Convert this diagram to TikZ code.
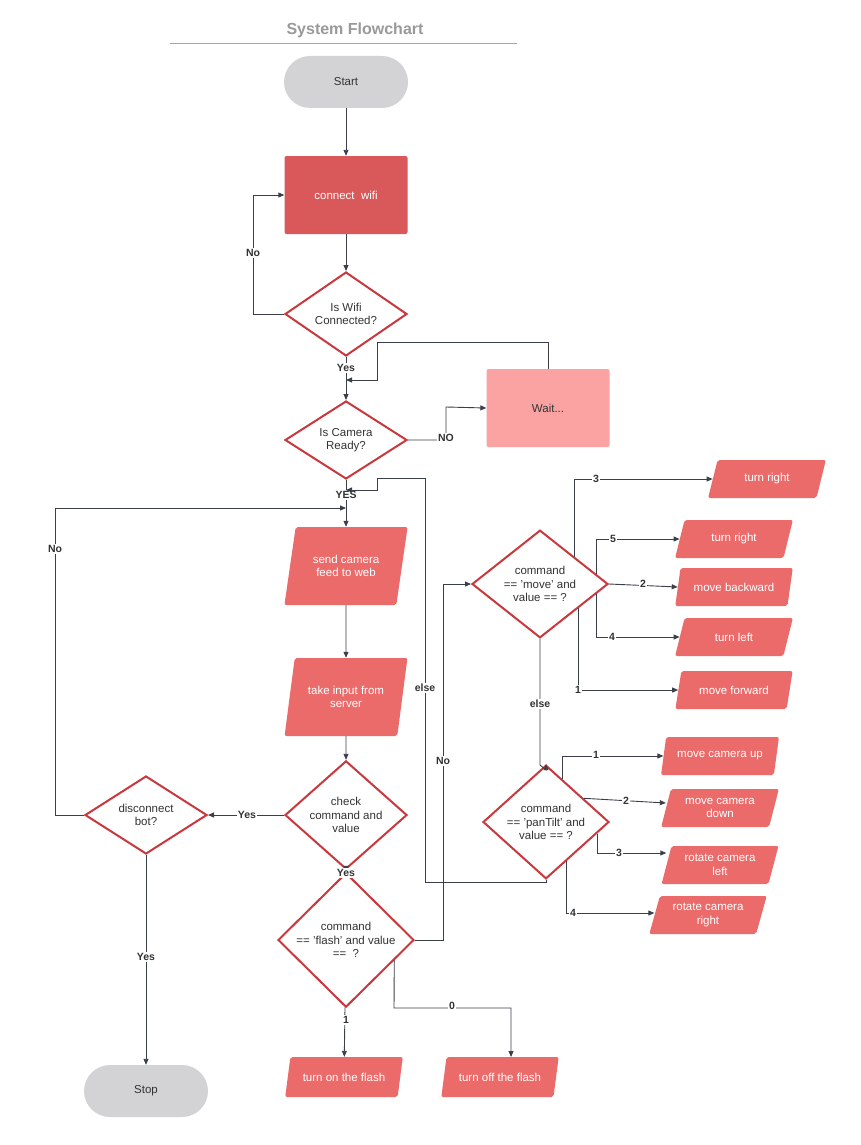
\documentclass[tikz,border=0pt]{standalone}
\usepackage{fontspec}
\setmainfont{Liberation Sans}
\usetikzlibrary{shapes.geometric,arrows.meta,calc}
\definecolor{rfill}{HTML}{EB6B6B}
\definecolor{rborder}{HTML}{C8383C}
\definecolor{cwfill}{HTML}{D9585A}
\definecolor{waitfill}{HTML}{FBA3A3}
\definecolor{gfill}{HTML}{D3D3D5}
\definecolor{ln}{HTML}{3A3F4A}
\definecolor{txt}{HTML}{333333}
\begin{document}
\begin{tikzpicture}[x=1pt,y=-1pt,
  every node/.style={font=\fontsize{11.5}{13.5}\selectfont,text=txt,align=center},
  term/.style={rounded corners=26pt,fill=gfill,minimum width=124pt,minimum height=52pt},
  box/.style={fill=#1,minimum width=123pt,minimum height=78pt,rounded corners=2pt},
  dia/.style={diamond,draw=rborder,line width=2pt,fill=white,inner sep=0pt,minimum width=#1},
  para/.style={trapezium,trapezium left angle=74,trapezium right angle=106,trapezium stretches=true,fill=rfill,text=white,rounded corners=2pt,minimum width=#1},
  arr/.style={draw=ln,line width=0.9pt,-{Triangle[length=6pt,width=5pt]}},
  lbl/.style={font=\bfseries\fontsize{10.5}{12}\selectfont,fill=white,inner sep=1pt}]
\useasboundingbox (0,0) rectangle (861,1145);
\node[text=gray!80,font=\bfseries\fontsize{16}{18}\selectfont] (title) at (355,30) {System Flowchart};
\draw[gray!70,line width=0.8pt] (170,43) -- (517,43);
\node[term] (start) at (346,82) {Start};
\node[box=cwfill,text=white] (cw) at (346,195) {connect\ \ wifi};
\node[dia=122pt,minimum height=78pt] (iw) at (346,314) {Is Wifi\\Connected?};
\node[box=waitfill] (wait) at (548,408) {Wait...};
\node[dia=122pt,minimum height=78pt] (cr) at (346,440) {Is Camera\\Ready?};
\node[para=124pt,minimum height=78pt] (send) at (346,566) {send camera\\feed to web};
\node[para=124pt,minimum height=78pt] (take) at (346,697) {take input from\\server};
\node[dia=122pt,minimum height=78pt] (chk) at (346,815) {check\\command and\\value};
\node[dia=122pt,minimum height=78pt] (disc) at (146,815) {disconnect\\bot?};
\node[term] (stop) at (146,1091) {Stop};
\node[dia=136pt,minimum height=90pt] (fl) at (346,940) {command\\== 'flash' and value\\==\ \ ?};
\node[para=118pt,minimum height=40pt] (on) at (344,1077) {turn on the flash};
\node[para=118pt,minimum height=40pt] (off) at (500,1077) {turn off the flash};
\node[dia=136pt,minimum height=90pt] (mv) at (540,584) {command\\== 'move' and\\value == ?};
\node[para=118pt,minimum height=38pt] (tr1) at (767,479) {turn right};
\node[para=118pt,minimum height=38pt] (tr2) at (734,539) {turn right};
\node[para=118pt,minimum height=38pt] (mb) at (734,587) {move backward};
\node[para=118pt,minimum height=38pt] (tl) at (734,637) {turn left};
\node[para=118pt,minimum height=38pt] (mf) at (734,690) {move forward};
\node[dia=126pt,minimum height=90pt] (pt) at (546,822) {command\\== 'panTilt' and\\value == ?};
\node[para=118pt,minimum height=38pt] (mcu) at (720,756) {move camera up};
\node[para=118pt,minimum height=38pt] (mcd) at (720,808) {move camera\\down};
\node[para=118pt,minimum height=38pt] (rcl) at (720,865) {rotate camera\\left};
\node[para=118pt,minimum height=38pt] (rcr) at (708,915) {rotate camera\\right};
\coordinate (j1) at (346,380);
\coordinate (j2) at (346,508);
\coordinate (j3) at (346,490);
% connectors
\draw[arr] (start) -- (cw);
\draw[arr] (cw) -- (iw);
\draw[arr] (iw.west) -- (253,314) -- (253,195) -- (cw.west);
\node[lbl] at (253,253) {No};
\draw[arr] (iw) -- (cr);
\node[lbl] at (346,368) {Yes};
\draw[arr] (wait.north) -- (548,342) -- (377,342) -- (377,380) -- (j1);
\draw[arr] (cr.east) -- (446,440) -- (446,407) -- (wait.west);
\node[lbl] at (446,438) {NO};
\draw[arr] (cr) -- (send);
\node[lbl] at (346,495) {YES};
\draw[arr] (disc.west) -- (55,815) -- (55,508) -- (j2);
\node[lbl] at (55,549) {No};
\draw[arr] (pt.south) -- (546,882) -- (425,882) -- (425,478) -- (377,478) -- (377,490) -- (j3);
\node[lbl] at (425,688) {else};
\draw[arr] (send) -- (take);
\draw[arr] (take) -- (chk);
\draw[arr] (chk) -- (disc);
\node[lbl] at (247,815) {Yes};
\draw[arr] (disc) -- (stop);
\node[lbl] at (146,957) {Yes};
\draw[arr] (chk) -- (fl);
\node[lbl] at (346,873) {Yes};
\draw[arr] (fl.east) -- (443,940) -- (443,584) -- (mv.west);
\node[lbl] at (443,761) {No};
\draw[arr] (fl) -- (on);
\node[lbl] at (346,1020) {1};
\draw[arr] ($(fl.east)!0.3!(fl.south)$) -- (394,1008) -- (511,1008) -- (511,1057);
\node[lbl] at (452,1006) {0};
\draw[arr] (mv.south) -- (540,765) -- (546,770) -- (pt.north);
\node[lbl] at (540,704) {else};
\draw[arr] (mv.north east) |- (tr1.west);
\node[lbl] at (596,479) {3};
\draw[arr] ($(mv.east)!0.18!(mv.north)$) |- (tr2.west);
\node[lbl] at (613,539) {5};
\draw[arr] (mv.east) -- (mb.west);
\node[lbl] at (643,584) {2};
\draw[arr] ($(mv.east)!0.18!(mv.south)$) |- (tl.west);
\node[lbl] at (612,637) {4};
\draw[arr] ($(mv.east)!0.44!(mv.south)$) |- (mf.west);
\node[lbl] at (578,690) {1};
\draw[arr] ($(pt.east)!0.75!(pt.north)$) |- (mcu.west);
\node[lbl] at (596,755) {1};
\draw[arr] ($(pt.east)!0.41!(pt.north)$) -- (mcd.west|-583,803);
\node[lbl] at (626,801) {2};
\draw[arr] ($(pt.east)!0.2!(pt.south)$) |- (rcl.west|-596,853);
\node[lbl] at (619,853) {3};
\draw[arr] ($(pt.east)!0.68!(pt.south)$) |- (rcr.west|-566,913);
\node[lbl] at (573,913) {4};
\end{tikzpicture}
\end{document}
